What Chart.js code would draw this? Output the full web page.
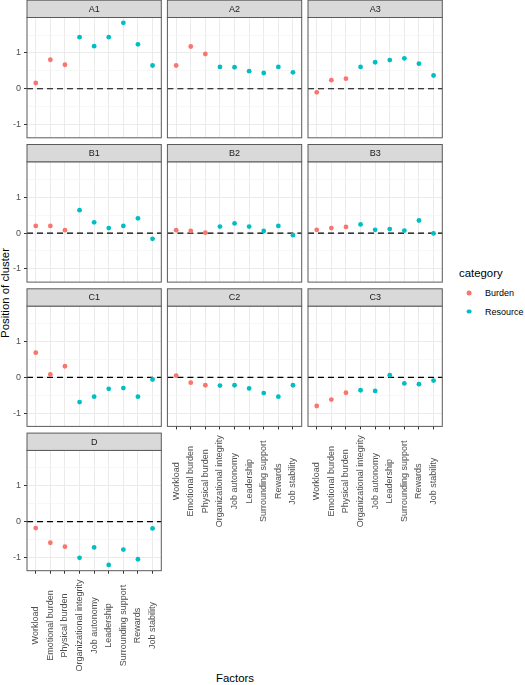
<!DOCTYPE html>
<html>
<head>
<meta charset="utf-8">
<script src="https://cdn.jsdelivr.net/npm/chart.js@4.4.0/dist/chart.umd.min.js"></script>
<style>
html,body{margin:0;padding:0;background:#fff;}
#wrap{position:relative;width:525px;height:685px;overflow:hidden;font-family:"Liberation Sans",Arial,sans-serif;}
#wrap canvas{position:absolute;left:0;top:0;}
.txt{position:absolute;white-space:nowrap;color:#000;}
#ytitle{font-size:11.4px;left:5px;top:293px;transform:translate(-50%,-50%) rotate(-90deg);transform-origin:center;}
#xtitle{font-size:11.4px;left:235px;top:678px;transform:translate(-50%,-50%);}
#legtitle{font-size:11.4px;left:459px;top:273px;transform:translateY(-50%);}
.legdot{position:absolute;width:4.8px;height:4.8px;border-radius:50%;transform:translate(-50%,-50%);}
.leglab{font-size:9px;transform:translateY(-50%);}
</style>
</head>
<body>
<div id="wrap">
  <div id="ytitle" class="txt">Position of cluster</div>
  <div id="xtitle" class="txt">Factors</div>
  <div id="legtitle" class="txt">category</div>
  <div class="legdot" style="left:469px;top:293px;background:#F8766D"></div>
  <div class="txt leglab" style="left:485px;top:293px;">Burden</div>
  <div class="legdot" style="left:469px;top:311.5px;background:#00BFC4"></div>
  <div class="txt leglab" style="left:485px;top:311.5px;">Resource</div>
</div>
<script>
// ---- data ----
const factors = ["Workload","Emotional burden","Physical burden","Organizational integrity","Job autonomy","Leadership","Surrounding support","Rewards","Job stability"];
const factorCategory = ["Burden","Burden","Burden","Resource","Resource","Resource","Resource","Resource","Resource"];
const clusters = ["A1","A2","A3","B1","B2","B3","C1","C2","C3","D"];
const A1 = [0.16, 0.81, 0.67, 1.44, 1.19, 1.44, 1.84, 1.24, 0.65];
const A2 = [0.65, 1.18, 0.97, 0.61, 0.60, 0.49, 0.44, 0.61, 0.46];
const A3 = [-0.10, 0.24, 0.28, 0.61, 0.74, 0.80, 0.85, 0.70, 0.37];
const B1 = [0.20, 0.20, 0.08, 0.64, 0.30, 0.14, 0.20, 0.41, -0.16];
const B2 = [0.08, 0.06, 0.01, 0.18, 0.27, 0.18, 0.06, 0.20, -0.06];
const B3 = [0.09, 0.14, 0.17, 0.24, 0.09, 0.11, 0.07, 0.35, -0.01];
const C1 = [0.69, 0.08, 0.31, -0.69, -0.54, -0.32, -0.30, -0.54, -0.06];
const C2 = [0.05, -0.15, -0.22, -0.23, -0.22, -0.31, -0.44, -0.54, -0.22];
const C3 = [-0.80, -0.62, -0.43, -0.36, -0.38, 0.06, -0.17, -0.19, -0.09];
const D  = [-0.18, -0.59, -0.70, -1.01, -0.72, -1.21, -0.78, -1.05, -0.19];
const clusterValues = [A1, A2, A3, B1, B2, B3, C1, C2, C3, D];
const yTickLabels = [-1, 0, 1];
const categoryColors = {Burden: "#F8766D", Resource: "#00BFC4"};

// ---- layout ----
const W = 525, H = 685;
const FONT = '"Liberation Sans", Arial, sans-serif';
const colLeft = [27, 167.4, 308];
const panelW = 134.3;
const stripH = 17.3, panelH = 120.3;
const rowTop = r => 0.2 + r * 144.3;
const xLabelOffset = 54.8;
const wrap = document.getElementById('wrap');

const isInt = v => Math.abs(v - Math.round(v)) < 1e-9;

const panelPlugin = {
  id: 'panel',
  beforeDatasetsDraw(chart) {
    const {ctx, chartArea, scales} = chart;
    const y0 = scales.y.getPixelForValue(0);
    ctx.save();
    ctx.strokeStyle = '#000';
    ctx.lineWidth = 1.2;
    ctx.setLineDash([6, 4]);
    ctx.beginPath();
    ctx.moveTo(chartArea.left, y0);
    ctx.lineTo(chartArea.right, y0);
    ctx.stroke();
    ctx.restore();
  },
  afterDraw(chart, args, opts) {
    const {ctx, chartArea, scales} = chart;
    const l = chartArea.left, t = chartArea.top, w = chartArea.right - l, h = chartArea.bottom - t;
    ctx.save();
    ctx.strokeStyle = '#5a5a5a';
    ctx.lineWidth = 1;
    ctx.strokeRect(l, t, w, h);
    ctx.fillStyle = '#D9D9D9';
    ctx.fillRect(l, t - stripH, w, stripH);
    ctx.strokeRect(l, t - stripH, w, stripH);
    ctx.fillStyle = '#1A1A1A';
    ctx.font = '9px ' + FONT;
    ctx.textAlign = 'center';
    ctx.textBaseline = 'middle';
    ctx.fillText(opts.title, l + w / 2, t - stripH / 2 + 0.5);
    if (opts.xLabels) {
      ctx.fillStyle = '#4D4D4D';
      const cy = chartArea.bottom + xLabelOffset;
      factors.forEach((f, i) => {
        const x = scales.x.getPixelForValue(i);
        ctx.save();
        ctx.translate(x, cy);
        ctx.rotate(-Math.PI / 2);
        ctx.fillText(f, 0, 0);
        ctx.restore();
      });
    }
    ctx.restore();
  }
};

clusters.forEach((name, k) => {
  const row = Math.floor(k / 3), col = k % 3;
  const left = colLeft[col], right = left + panelW;
  const top = rowTop(row) + stripH, bottom = top + panelH;
  const showY = col === 0;
  const showX = (k === 7 || k === 8 || k === 9);
  const yAxisW = showY ? left : 0;
  const canvas = document.createElement('canvas');
  canvas.width = W; canvas.height = H;
  wrap.appendChild(canvas);
  const vals = clusterValues[k];
  const burden = [], resource = [];
  vals.forEach((v, i) => {
    (factorCategory[i] === 'Burden' ? burden : resource).push({x: i, y: v});
  });
  new Chart(canvas, {
    type: 'scatter',
    data: {
      datasets: [
        {label: 'Burden', data: burden, backgroundColor: categoryColors.Burden, borderColor: categoryColors.Burden, pointRadius: 2.4, borderWidth: 0},
        {label: 'Resource', data: resource, backgroundColor: categoryColors.Resource, borderColor: categoryColors.Resource, pointRadius: 2.4, borderWidth: 0}
      ]
    },
    options: {
      responsive: false,
      animation: false,
      events: [],
      layout: {padding: {left: left - yAxisW, top: top, right: W - right, bottom: H - bottom}},
      plugins: {
        legend: {display: false},
        tooltip: {enabled: false},
        panel: {title: name, xLabels: showX}
      },
      scales: {
        x: {
          type: 'linear', min: -0.6, max: 8.6,
          afterFit(s) { s.height = 0; },
          border: {display: false},
          grid: {color: '#EBEBEB', lineWidth: 1, drawTicks: showX, tickLength: 3, tickColor: '#333333', tickWidth: 1},
          ticks: {display: false, stepSize: 1, includeBounds: false}
        },
        y: {
          type: 'linear', min: -1.37, max: 1.99,
          afterFit(s) { s.width = yAxisW; },
          border: {display: false},
          grid: {
            color: c => (c.tick && isInt(c.tick.value)) ? '#EBEBEB' : '#F4F4F4',
            lineWidth: c => (c.tick && isInt(c.tick.value)) ? 1 : 0.7,
            drawTicks: showY, tickLength: 3,
            tickColor: c => (c.tick && isInt(c.tick.value)) ? '#333333' : 'rgba(0,0,0,0)',
            tickWidth: 1
          },
          ticks: {
            display: showY, stepSize: 0.5, includeBounds: false, padding: 3,
            color: '#4D4D4D', font: {size: 9, family: FONT},
            callback: v => yTickLabels.some(t => Math.abs(t - v) < 1e-9) ? String(Math.round(v)) : ''
          }
        }
      }
    },
    plugins: [panelPlugin]
  });
});
</script>
</body>
</html>
